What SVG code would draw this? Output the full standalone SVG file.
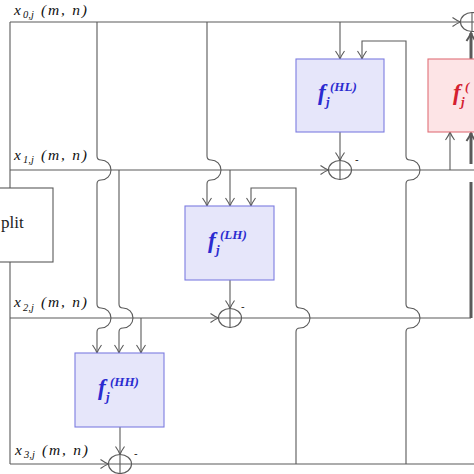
<svg xmlns="http://www.w3.org/2000/svg" width="474" height="474" viewBox="0 0 474 474">
<style>
  .ln{fill:none;stroke:#5a5a5a;stroke-width:1.1}
  .thk{fill:none;stroke:#5a5a5a;stroke-width:3}
  .box{fill:#e6e6fa;stroke:#7c7ce0;stroke-width:1.1}
  .rbox{fill:#fde4e6;stroke:#e07078;stroke-width:1.1}
  .sbox{fill:#ffffff;stroke:#5a5a5a;stroke-width:1.1}
  .sum{fill:#ffffff;stroke:#5a5a5a;stroke-width:1.1}
  .lbl{font-family:"Liberation Serif",serif;font-style:italic;font-size:15.5px;fill:#111}
  .fb{font-family:"Liberation Serif",serif;font-style:italic;font-weight:bold;fill:#2b2bd0}
  .fr{font-family:"Liberation Serif",serif;font-style:italic;font-weight:bold;fill:#d42030}
  .minus{font-family:"Liberation Sans",sans-serif;font-size:11px;fill:#222}
  .plain{font-family:"Liberation Serif",serif;font-size:17px;fill:#222}
</style>
<defs>
  <marker id="arr" markerUnits="userSpaceOnUse" viewBox="-9 -6 10 12" refX="0" refY="0" markerWidth="10" markerHeight="12" orient="auto" overflow="visible">
    <path d="M-8,-4.5 Q-3,-1 0,0 Q-3,1 -8,4.5" fill="none" stroke="#5a5a5a" stroke-width="1.1"/>
  </marker>
  <marker id="arrT" markerUnits="userSpaceOnUse" viewBox="-9 -6 10 12" refX="0" refY="0" markerWidth="10" markerHeight="12" orient="auto" overflow="visible">
    <path d="M-8,-4.5 Q-3,-1 0,0 Q-3,1 -8,4.5" fill="none" stroke="#5a5a5a" stroke-width="2"/>
  </marker>
</defs>

<g id="connectors">
  <path class="ln" d="M10,22 H460.5" marker-end="url(#arr)"/>
  <path class="ln" d="M10,170 H328.5"  marker-end="url(#arr)"/>
  <path class="ln" d="M351.5,170 H474"/>
  <path class="ln" d="M10,318 H218.5" marker-end="url(#arr)"/>
  <path class="ln" d="M241.5,318 H471"/>
  <path class="ln" d="M10,464 H108.5" marker-end="url(#arr)"/>
  <path class="ln" d="M131.5,464 H474"/>
  <path class="ln" d="M10,22 V188"/>
  <path class="ln" d="M10,262 V464"/>
  <path class="ln" d="M97,22 V156 Q97,160 101,160 A10,10 0 0 1 101,180 Q97,180 97,184 V304 Q97,308 101,308 A10,10 0 0 1 101,328 Q97,328 97,332 V353" marker-end="url(#arr)"/>
  <path class="ln" d="M119,170 V304 Q119,308 123,308 A10,10 0 0 1 123,328 Q119,328 119,332 V353" marker-end="url(#arr)"/>
  <path class="ln" d="M141,318 V353" marker-end="url(#arr)"/>
  <path class="ln" d="M207,22 V156 Q207,160 211,160 A10,10 0 0 1 211,180 Q207,180 207,184 V206" marker-end="url(#arr)"/>
  <path class="ln" d="M230,170 V206" marker-end="url(#arr)"/>
  <path class="ln" d="M296,464 V332 Q296,328 300,328 A10,10 0 0 0 300,308 Q296,308 296,304 V188 H251 V206" marker-end="url(#arr)"/>
  <path class="ln" d="M340,22 V59" marker-end="url(#arr)"/>
  <path class="ln" d="M406,464 V332 Q406,328 410,328 A10,10 0 0 0 410,308 Q406,308 406,304 V184 Q406,180 410,180 A10,10 0 0 0 410,160 Q406,160 406,156 V41 H362 V59" marker-end="url(#arr)"/>
  <path class="ln" d="M340,132 V160.5" marker-end="url(#arr)"/>
  <path class="ln" d="M230,280 V308.5" marker-end="url(#arr)"/>
  <path class="ln" d="M120,427 V454.5" marker-end="url(#arr)"/>
  <path class="ln" d="M450,170 V132" marker-end="url(#arr)"/>
  <path class="thk" d="M471,318 V182"/>
  <path class="thk" d="M471,164 V133" marker-end="url(#arrT)"/>
  <path class="thk" d="M471,59 V33" marker-end="url(#arrT)"/>
</g>

<g id="split">
  <rect class="sbox" x="-20" y="188" width="73" height="74"/>
  <text class="plain" x="1" y="228">plit</text>
</g>

<g id="labels">
  <text class="lbl" y="14.5"><tspan x="14">x</tspan><tspan x="23" dy="3.5" font-size="10.5">0,j</tspan><tspan x="41" dy="-3.5" letter-spacing="1.8">(m, n)</tspan></text>
  <text class="lbl" y="159.5"><tspan x="14">x</tspan><tspan x="23" dy="3.5" font-size="10.5">1,j</tspan><tspan x="41" dy="-3.5" letter-spacing="1.8">(m, n)</tspan></text>
  <text class="lbl" y="307"><tspan x="14">x</tspan><tspan x="23" dy="3.5" font-size="10.5">2,j</tspan><tspan x="41" dy="-3.5" letter-spacing="1.8">(m, n)</tspan></text>
  <text class="lbl" y="454.5"><tspan x="15">x</tspan><tspan x="24" dy="3.5" font-size="10.5">3,j</tspan><tspan x="42" dy="-3.5" letter-spacing="1.8">(m, n)</tspan></text>
</g>

<g id="HL">
  <rect class="box" x="296" y="59" width="88" height="73"/>
  <text class="fb" font-size="23" x="318" y="100">f</text>
  <text class="fb" font-size="13" x="326" y="106">j</text>
  <text class="fb" font-size="13" x="330" y="91">(HL)</text>
</g>

<g id="LH">
  <rect class="box" x="185" y="206" width="89" height="74"/>
  <text class="fb" font-size="23" x="208" y="247.5">f</text>
  <text class="fb" font-size="13" x="216" y="253.5">j</text>
  <text class="fb" font-size="13" x="220" y="238.5">(LH)</text>
</g>

<g id="HH">
  <rect class="box" x="75" y="353" width="89" height="74"/>
  <text class="fb" font-size="23" x="98" y="395">f</text>
  <text class="fb" font-size="13" x="106" y="401">j</text>
  <text class="fb" font-size="13" x="110" y="386">(HH)</text>
</g>

<g id="LL">
  <rect class="rbox" x="428" y="59" width="88" height="73"/>
  <text class="fr" font-size="23" x="453" y="100">f</text>
  <text class="fr" font-size="13" x="461" y="106">j</text>
  <text class="fr" font-size="13" x="465" y="91">(</text>
</g>

<g id="sum0">
  <ellipse class="sum" cx="472" cy="22" rx="11.5" ry="9.5"/>
  <path class="ln" d="M460.5,22 H483.5 M472,12.5 V31.5"/>
</g>
<g id="sum1">
  <ellipse class="sum" cx="340" cy="170" rx="11.5" ry="9.5"/>
  <path class="ln" d="M328.5,170 H351.5 M340,160.5 V179.5"/>
  <text class="minus" x="355" y="163">-</text>
</g>
<g id="sum2">
  <ellipse class="sum" cx="230" cy="318" rx="11.5" ry="9.5"/>
  <path class="ln" d="M218.5,318 H241.5 M230,308.5 V327.5"/>
  <text class="minus" x="241" y="310">-</text>
</g>
<g id="sum3">
  <ellipse class="sum" cx="120" cy="464" rx="11.5" ry="9.5"/>
  <path class="ln" d="M108.5,464 H131.5 M120,454.5 V473.5"/>
  <text class="minus" x="134" y="457">-</text>
</g>
</svg>
